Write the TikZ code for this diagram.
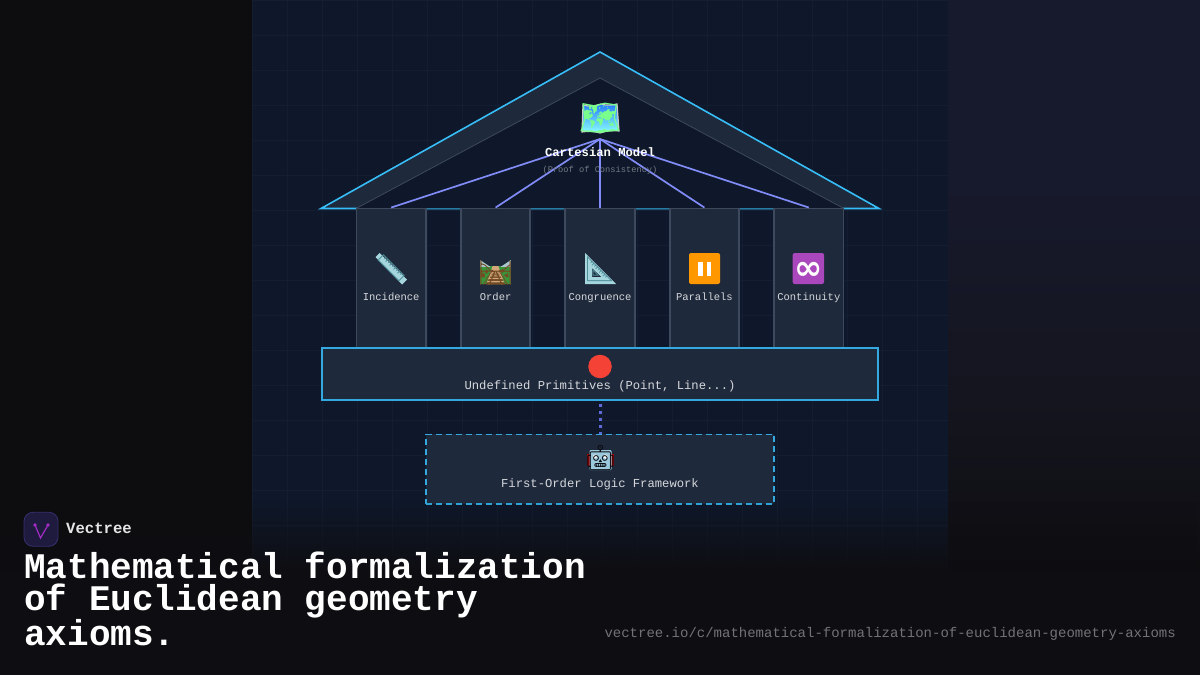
\documentclass[tikz,border=0pt]{standalone}
\usepackage{fontspec}
\setmonofont{Liberation Mono}
\newfontfamily\emojifont{Noto Emoji}
\newfontfamily\symbolfont{DejaVu Sans}
\usetikzlibrary{positioning,fadings}

\definecolor{sidedark}{HTML}{0D0D10}
\definecolor{sidenavy}{HTML}{171A2D}
\definecolor{sidemid}{HTML}{15151F}
\definecolor{panelbg}{HTML}{0E182A}
\definecolor{gridline}{HTML}{131E32}
\definecolor{slatefill}{HTML}{1E293B}
\definecolor{slateline}{HTML}{3D4A5E}
\definecolor{skyline}{HTML}{38BDF8}
\definecolor{tieline}{HTML}{818CF8}
\definecolor{dotline}{HTML}{5F6AD9}
\definecolor{footbg}{HTML}{0E0E12}
\definecolor{paleblue}{HTML}{A5D6DE}
\definecolor{paledark}{HTML}{4F8C98}
\definecolor{pauseorange}{HTML}{FF9800}
\definecolor{loopviolet}{HTML}{AB47BC}
\definecolor{dotred}{HTML}{F44336}
\definecolor{logofill}{HTML}{1E1B3F}
\definecolor{logoline}{HTML}{35316E}
\definecolor{logomark}{HTML}{A32CC4}
\tikzfading[name=fadefoot, top color=transparent!100, bottom color=transparent!0]

\begin{document}
\begin{tikzpicture}[x=1pt,y=-1pt,
  pillar/.style={rectangle, draw=slateline, fill=slatefill, line width=1.8pt, minimum width=69.5pt, minimum height=139.5pt, inner sep=0pt},
  pillarlabel/.style={font={\fontsize{10.5}{12}\selectfont\ttfamily}, text=white!82!slatefill, anchor=base, inner sep=0pt},
  glyph/.style={font={\fontsize{27}{30}\selectfont\emojifont}, inner sep=0pt},
  tie/.style={draw=tieline, line width=1.7pt},
  slab/.style={rectangle, fill=slatefill, draw=skyline!88!panelbg, line width=1.8pt, inner sep=0pt},
  slabtext/.style={font={\fontsize{12.2}{14}\selectfont\ttfamily}, text=white!82!slatefill, anchor=base, inner sep=0pt}
]
\useasboundingbox (0,0) rectangle (1200,675);
\fill[sidedark] (0,0) rectangle (1200,675);
\fill[sidenavy] (948,0) rectangle (1200,170);
\shade[top color=sidenavy, bottom color=sidemid] (948,170) rectangle (1200,400);
\shade[top color=sidemid, bottom color=footbg] (948,400) rectangle (1200,560);
\fill[panelbg] (252,0) rectangle (948,675);
\draw[gridline, line width=0.8pt, step=35pt, xshift=252pt] (0,0) grid (696,675);

% roof
\fill[slatefill, draw=skyline, line width=1.6pt, line join=miter] (600,52) -- (879,208.5) -- (321,208.5) -- cycle;
\fill[panelbg] (600,78) -- (844,208.5) -- (356,208.5) -- cycle;
\draw[slateline, line width=0.8pt] (356,208.5) -- (600,78) -- (844,208.5);
\draw[skyline!60!panelbg, line width=1.6pt] (356,208.5) -- (844,208.5);
\coordinate (apex) at (600,139);

% pillars
\node[pillar] (p1) at (391.2,278.2) {};
\node[pillar] (p2) at (495.6,278.2) {};
\node[pillar] (p3) at (600,278.2) {};
\node[pillar] (p4) at (704.4,278.2) {};
\node[pillar] (p5) at (808.8,278.2) {};
\draw[tie] (apex) -- (p1.north);
\draw[tie] (apex) -- (p2.north);
\draw[tie] (apex) -- (p3.north);
\draw[tie] (apex) -- (p4.north);
\draw[tie] (apex) -- (p5.north);

% ruler
\fill[paleblue] (379.5,253) -- (407,279.5) -- (402,284.5) -- (375.5,257) -- cycle;
\node[glyph, text=paledark] (i1) at (391.2,268.5) {📏};
% rails
\begin{scope}
\clip (480,260) -- (489,266) -- (502,266) -- (511,260) -- (511,284) -- (480,284) -- cycle;
\fill[green!45!gray!80!black] (480,258) rectangle (511,284);
\fill[cyan!30!gray!60!white] (480,258) rectangle (490,267);
\fill[cyan!30!gray!60!white] (501,258) rectangle (511,267);
\fill[brown!70!white] (493,265) -- (498,265) -- (504.5,284) -- (486.5,284) -- cycle;
\node[glyph, text=brown!60!black, font={\fontsize{30}{32}\selectfont\emojifont}] (i2) at (495.6,272) {🛤};
\end{scope}
% set square
\fill[paleblue, even odd rule] (585,253) -- (616,284) -- (585,284) -- cycle (592,268) -- (592,277) -- (601.5,277) -- cycle;
\node[glyph, text=paledark, font={\fontsize{25}{27}\selectfont\emojifont}] (i3) at (600,269) {📐};
% pause
\fill[pauseorange, rounded corners=2pt] (689,253) rectangle (720,284);
\node[glyph, text=pauseorange] (i4) at (704.5,268.5) {⏸};
\fill[white] (698,262) rectangle (702.5,276);
\fill[white] (706.5,262) rectangle (711,276);
% infinity
\fill[loopviolet, rounded corners=2pt] (792.7,253) rectangle (824,284);
\node[font={\fontsize{34}{36}\selectfont\symbolfont\bfseries}, text=white, inner sep=0pt] (i5) at (808.4,271) {∞};

\node[pillarlabel] (t1) at (391.2,300.8) {Incidence};
\node[pillarlabel] (t2) at (495.6,300.8) {Order};
\node[pillarlabel] (t3) at (600,300.8) {Congruence};
\node[pillarlabel] (t4) at (704.4,300.8) {Parallels};
\node[pillarlabel] (t5) at (808.8,300.8) {Continuity};

% top model
\shade[top color=blue!60!cyan!85!white, bottom color=cyan!45!white, draw=gray!40!white, line width=1.2pt] (583,105) .. controls (590,107) and (594,106) .. (601,104) .. controls (607,106) and (612,105) .. (617,104) -- (619,131) .. controls (612,130) and (606,131) .. (600,133) .. controls (594,131) and (588,131) .. (582,132) -- cycle;
\node[glyph, text=green!50!yellow!60!cyan!75!white, font={\fontsize{33}{36}\selectfont\emojifont}] (model) at (600,118) {🗺};
\node[font={\fontsize{12.2}{14}\selectfont\ttfamily\bfseries}, text=white, anchor=base, inner sep=0pt] (modeltitle) at (600,156.3) {Cartesian Model};
\node[font={\fontsize{8.7}{10}\selectfont\ttfamily}, text=white!42!panelbg, anchor=base, inner sep=0pt] (modelnote) at (600,172.3) {(Proof of Consistency)};

% foundation
\node[slab, minimum width=556pt, minimum height=52pt] (base) at (600,374) {};
\node[slab, dashed, dash pattern=on 6pt off 4pt, minimum width=348pt, minimum height=69.5pt] (frame) at (600,469.2) {};
\draw[draw=dotline, line width=3pt, dash pattern=on 3pt off 4pt, dash phase=4pt] (base.south) -- (frame.north);
\node[circle, fill=dotred, minimum size=23.5pt, inner sep=0pt, font={\fontsize{12}{13}\selectfont\emojifont}, text=dotred] (dot) at (600,366.5) {🔴};
\node[slabtext] (basetext) at (600,389.6) {Undefined Primitives (Point, Line...)};
% robot
\fill[red!65!black] (587,454) rectangle (614,466);
\fill[gray!50!cyan!60!white, rounded corners=1pt] (589.5,450) rectangle (611.5,470);
\fill[white] (595,456.5) circle (2pt);
\fill[white] (605.5,456.5) circle (2pt);
\node[glyph, text=black!70!slatefill, font={\fontsize{25}{27}\selectfont\emojifont}] (robot) at (600.5,457.5) {🤖};
\node[slabtext] (frametext) at (600,487.8) {First-Order Logic Framework};

% footer
\fill[footbg, path fading=fadefoot] (0,500) rectangle (1200,570);
\fill[footbg] (0,570) rectangle (1200,675);
\node[rectangle, rounded corners=9pt, fill=logofill, draw=logoline, line width=0.8pt, minimum size=34pt, inner sep=0pt] (logo) at (41,529.3) {};
\coordinate (vtip) at (40.5,538);
\coordinate (vleft) at (35,525);
\coordinate (vright) at (48,525);
\draw[draw=logomark, line width=1.2pt] (vleft) -- (vtip) -- (vright);
\fill[logomark] (vleft) circle (1.9pt);
\fill[logomark] (vright) circle (1.9pt);
\node[font={\fontsize{15.6}{18}\selectfont\ttfamily\bfseries}, text=white!90!black, anchor=base west, inner sep=0pt] (brand) at (66,533.5) {Vectree};
\node[font={\fontsize{36}{32}\selectfont\ttfamily\bfseries}, text=white, anchor=north west, align=left, inner sep=0pt] (headline) at (24,552) {Mathematical formalization\\of Euclidean geometry\\axioms.};
\node[font={\fontsize{14}{16}\selectfont\ttfamily}, text=white!42!footbg, anchor=base east, inner sep=0pt] (address) at (1176,637.3) {vectree.io/c/mathematical-formalization-of-euclidean-geometry-axioms};
\end{tikzpicture}
\end{document}
